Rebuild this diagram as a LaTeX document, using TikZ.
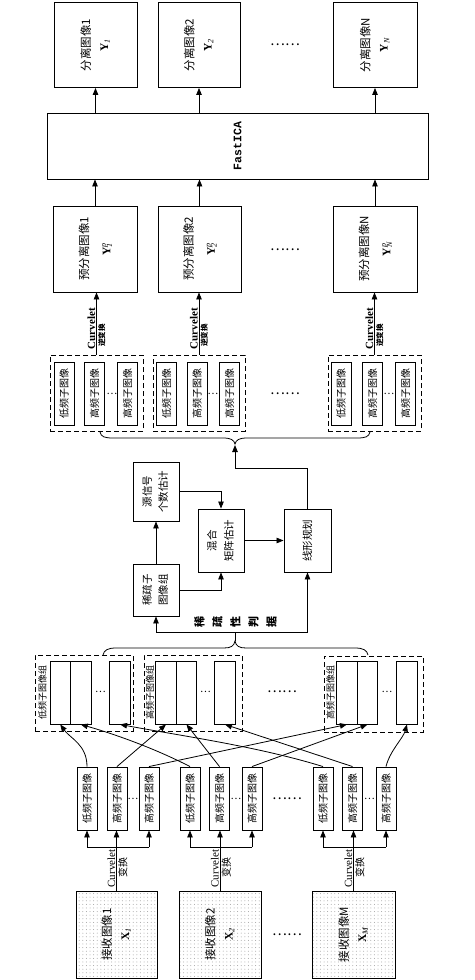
\documentclass[tikz,border=0pt]{standalone}
\usepackage{fontspec}
\setmainfont{Liberation Serif}
\newfontfamily\cjk{Noto Sans CJK SC}
\newfontfamily\monob{Liberation Mono}
\usetikzlibrary{arrows.meta,patterns.meta}
\newcommand\myrot[1]{\rotatebox{90}{#1}}
\newcommand\twol[2]{\rotatebox{90}{\begin{tabular}{@{}c@{}}#1\\#2\end{tabular}}}
\newcommand\vY[1]{{\rmfamily\textbf{Y}\textsubscript{\textit{#1}}}}
\newcommand\vYp[1]{{\rmfamily\textbf{Y}\rlap{\textsuperscript{\textit{p}}}\textsubscript{\textit{#1}}}}
\newcommand\vX[1]{{\rmfamily\textbf{X}\textsubscript{\textit{#1}}}}
\newcommand\cjkf[2]{\cjk\fontsize{#1}{#2}\selectfont}
\tikzset{
  box/.style={draw, line width=0.9pt, inner sep=0pt},
  grpbox/.style={draw, line width=0.8pt, dash pattern=on 5pt off 3pt, inner sep=0pt},
  arr/.style={-{Triangle[length=7pt,width=5.5pt]}, line width=0.8pt},
  ln/.style={line width=0.8pt},
  bigbox/.style={box, minimum height=85pt, font=\cjkf{11.5}{18}},
  pbox/.style={box, minimum height=86pt, font=\cjkf{11.5}{22}},
  rbox/.style={box, minimum height=87pt, font=\cjkf{11.5}{18}, pattern={Dots[distance=3.6pt,radius=0.5pt]}, pattern color=gray!75},
  subbox/.style={box, minimum width=20pt, minimum height=63pt, font=\cjkf{10}{10}},
  gbox/.style={box, minimum width=20.5pt, minimum height=63pt},
  glabel/.style={inner sep=0pt, font=\cjkf{9}{9}},
  bigdots/.style={inner sep=0pt, font=\cjkf{14}{14}},
  smalldots/.style={inner sep=0pt, font=\cjkf{10}{10}},
}
\begin{document}
\begin{tikzpicture}[x=1pt,y=-1pt]
\useasboundingbox (0,0) rectangle (474,980);

% ---------- separated images
\node[bigbox, minimum width=83pt] (y1) at (95.5,45) {\twol{分离图像1}{\vY{1}}};
\node[bigbox, minimum width=82pt] (y2) at (199,45) {\twol{分离图像2}{\vY{2}}};
\node[bigbox, minimum width=84pt] (yN) at (375,45) {\twol{分离图像N}{\vY{N}}};
\node[bigdots] (dy) at (285,45) {……};

% ---------- FastICA
\node[box, minimum width=381pt, minimum height=66pt, font=\monob\bfseries\fontsize{11.5}{12}\selectfont] (ica) at (237.5,146) {\myrot{FastICA}};

% ---------- pre-separated images
\node[pbox, minimum width=84pt] (p1) at (95,249) {\twol{预分离图像1}{\vYp{1}}};
\node[pbox, minimum width=83pt] (p2) at (199.5,249) {\twol{预分离图像2}{\vYp{2}}};
\node[pbox, minimum width=84pt] (pN) at (375,249) {\twol{预分离图像N}{\vYp{N}}};
\node[bigdots] (dp) at (285,250) {……};

\foreach \a/\b in {p1/y1,p2/y2,pN/yN}{
  \draw[arr] (\a.north) -- (\a.north |- ica.south);
  \draw[arr] (\b.south |- ica.north) -- (\b.south);
}

% ---------- inverse groups
\node[grpbox, minimum width=93pt, minimum height=76pt] (ig1) at (96.5,393) {};
\node[grpbox, minimum width=92pt, minimum height=76pt] (ig2) at (199,393) {};
\node[grpbox, minimum width=93pt, minimum height=76pt] (igN) at (374.5,393) {};
\node[subbox] (i1a) at (64,393.5) {\myrot{低频子图像}};
\node[subbox] (i1b) at (94.5,393.5) {\myrot{高频子图像}};
\node[subbox] (i1c) at (127.5,393.5) {\myrot{高频子图像}};
\node[subbox] (i2a) at (166.5,393.5) {\myrot{低频子图像}};
\node[subbox] (i2b) at (197,393.5) {\myrot{高频子图像}};
\node[subbox] (i2c) at (229.5,393.5) {\myrot{高频子图像}};
\node[subbox] (iNa) at (341,393.5) {\myrot{低频子图像}};
\node[subbox] (iNb) at (372.5,393.5) {\myrot{高频子图像}};
\node[subbox] (iNc) at (405.5,393.5) {\myrot{高频子图像}};
\node[smalldots] (di1) at (112,394) {…};
\node[smalldots] (di2) at (213,394) {…};
\node[smalldots] (diN) at (389,394) {…};
\node[bigdots] (di) at (285,394) {……};

\foreach \g/\p/\n in {ig1/p1/1,ig2/p2/2,igN/pN/N}{
  \draw[arr] (\g.north) -- (\g.north |- \p.south);
  \path (\g.north) ++(0,-26) coordinate (cc\n);
  \node[anchor=east, inner sep=1pt, font=\bfseries\fontsize{11}{12}\selectfont] (cv\n) at (cc\n) {\myrot{Curvelet}};
  \node[anchor=west, inner sep=1.5pt, font=\cjkf{7.5}{8}\bfseries] (iv\n) at ([yshift=-7pt]cc\n) {\myrot{逆变换}};
}

% ---------- upper brace
\draw[ln] (100,432) .. controls (101,437) and (105,438) .. (113,438) -- (223,438)
  .. controls (231,438) and (234,440) .. (235,444)
  .. controls (236,440) and (239,438) .. (247,438) -- (357,438)
  .. controls (365,438) and (369,437) .. (370,432);

% ---------- middle processing
\node[box, minimum width=46pt, minimum height=59pt, font=\cjkf{10.5}{16}] (src) at (156,491.5) {\twol{源信号}{个数估计}};
\node[box, minimum width=46pt, minimum height=63pt, font=\cjkf{10.5}{17}] (mix) at (221,540.5) {\twol{混合}{矩阵估计}};
\node[box, minimum width=47pt, minimum height=63pt, font=\cjkf{10.5}{12}] (lp) at (307.5,540.5) {\myrot{线形规划}};
\node[box, minimum width=46pt, minimum height=52pt, font=\cjkf{10.5}{16}] (sps) at (156,590) {\twol{稀疏子}{图像组}};

\coordinate (ja) at (235,468);
\coordinate (atip) at (235,445);
\draw[ln] (lp.north) |- (ja);
\draw[arr] (ja) -- (atip);
\draw[arr] (sps.north) -- (src.south);
\draw[arr] (src.east) -| (mix.north);
\draw[arr] (sps.east) -| (mix.south);
\draw[arr] (mix.east) -- (lp.west);

\coordinate (jb) at (235,632);
\coordinate (btip) at (235,641);
\draw[ln] (btip) -- (jb);
\draw[arr] (jb) -| (sps.south);
\draw[arr] (jb) -| (lp.south);
\node[inner sep=0pt, font=\cjkf{11}{18}\bfseries] (crit) at (236,622)
  {\rotatebox{90}{\begin{tabular}{@{}c@{}}稀\\疏\\性\\判\\据\end{tabular}}};

% ---------- lower brace
\draw[ln] (103,655) .. controls (104,650) and (108,648) .. (116,648) -- (224,648)
  .. controls (231,648) and (234,646) .. (235,641)
  .. controls (236,646) and (239,648) .. (246,648) -- (355,648)
  .. controls (363,648) and (367,650) .. (368,655);

% ---------- grouped sub-images
\node[grpbox, minimum width=98pt, minimum height=76pt] (lg1) at (84,693) {};
\node[grpbox, minimum width=98pt, minimum height=76pt] (lg2) at (193,693) {};
\node[grpbox, minimum width=99pt, minimum height=76pt] (lgN) at (373.5,694) {};
\node[glabel] (lb1) at (42.5,692) {\myrot{低频子图像组}};
\node[glabel] (lb2) at (150,692) {\myrot{高频子图像组}};
\node[glabel] (lbN) at (330.5,692) {\myrot{高频子图像组}};
\node[gbox] (g1a) at (60.25,692.5) {};
\node[gbox] (g1b) at (80.75,692.5) {};
\node[gbox] (g1c) at (120,692.5) {};
\node[gbox] (g2a) at (166,692.5) {};
\node[gbox] (g2b) at (186.5,692.5) {};
\node[gbox] (g2c) at (225,692.5) {};
\node[gbox] (gNa) at (347,692.5) {};
\node[gbox] (gNb) at (367.5,692.5) {};
\node[gbox] (gNc) at (407,692.5) {};
\node[smalldots] (dg1) at (100.5,692) {…};
\node[smalldots] (dg2) at (205.5,692) {…};
\node[smalldots] (dgN) at (387,692) {…};
\node[bigdots] (dg) at (282,692) {……};

% ---------- sub-images after Curvelet
\node[subbox] (s1a) at (87,798.5) {\myrot{低频子图像}};
\node[subbox] (s1b) at (117,798.5) {\myrot{高频子图像}};
\node[subbox] (s1c) at (149,798.5) {\myrot{高频子图像}};
\node[subbox] (s2a) at (190,798.5) {\myrot{低频子图像}};
\node[subbox] (s2b) at (219.5,798.5) {\myrot{高频子图像}};
\node[subbox] (s2c) at (252,798.5) {\myrot{高频子图像}};
\node[subbox] (sNa) at (323,798.5) {\myrot{低频子图像}};
\node[subbox] (sNb) at (352.5,798.5) {\myrot{高频子图像}};
\node[subbox] (sNc) at (386,798.5) {\myrot{高频子图像}};
\node[smalldots] (ds1) at (133,799) {…};
\node[smalldots] (ds2) at (236,799) {…};
\node[smalldots] (dsN) at (369.5,799) {…};
\node[bigdots] (ds) at (287,799) {……};

% crossing connections
\draw[arr] (s1a.north) .. controls +(0,-22) and +(10,14) .. (g1a.south);
\draw[arr] (s1b.north) -- (g2a.south);
\draw[arr] (s1c.north) -- (gNa.south);
\draw[arr] (s2a.north) .. controls +(-35,-18) and +(35,10) .. (g1b.south);
\draw[arr] (s2b.north) -- (g2b.south);
\draw[arr] (s2c.north) -- (gNb.south);
\draw[arr] (sNa.north) .. controls +(-65,-20) and +(65,12) .. (g1c.south);
\draw[arr] (sNb.north) -- (g2c.south);
\draw[arr] (sNc.north) .. controls +(4,-16) and +(-4,14) .. (gNc.south);

% ---------- received images
\node[rbox, minimum width=81pt] (r1) at (116.5,934.5) {\twol{接收图像1}{\vX{1}}};
\node[rbox, minimum width=82pt] (r2) at (220,934.5) {\twol{接收图像2}{\vX{2}}};
\node[rbox, minimum width=83pt] (rN) at (353.5,934.5) {\twol{接收图像M}{\vX{M}}};
\node[bigdots] (dr) at (287,935) {……};

\coordinate (fk) at (0,847);
\foreach \r/\a/\b/\c/\n in {r1/s1a/s1b/s1c/1,r2/s2a/s2b/s2c/2,rN/sNa/sNb/sNc/N}{
  \draw[arr] (\r.north) -- (\r.north |- \b.south);
  \draw[ln] (\a.south |- fk) -- (\c.south |- fk);
  \draw[arr] (\a.south |- fk) -- (\a.south);
  \draw[arr] (\c.south |- fk) -- (\c.south);
  \path (\r.north) ++(0,-22) coordinate (fc\n);
  \node[anchor=east, inner sep=1pt, font=\fontsize{11}{12}\selectfont] (fv\n) at (fc\n) {\myrot{Curvelet}};
  \node[anchor=west, inner sep=1.5pt, font=\cjkf{10}{10}] (fb\n) at ([yshift=1.5pt]fc\n) {\myrot{变换}};
}
\end{tikzpicture}
\end{document}
